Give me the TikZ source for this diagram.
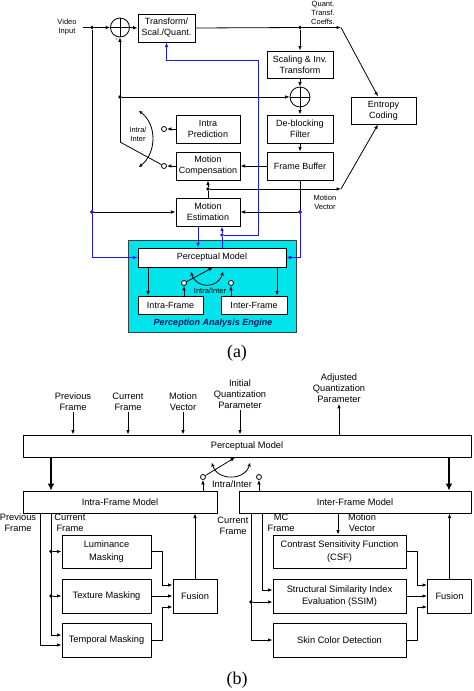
\documentclass[tikz,border=0pt]{standalone}
\usepackage{fontspec}
\setmainfont{Liberation Sans}
\newfontfamily\capfont{Liberation Serif}
\usetikzlibrary{arrows.meta}

\definecolor{engblue}{RGB}{25,25,235}
\definecolor{engcyan}{RGB}{0,228,236}
\definecolor{engnavy}{RGB}{15,15,95}

\newcommand{\fa}{\fontsize{9}{11}\selectfont}
\newcommand{\fb}{\fontsize{9.3}{11}\selectfont}
\newcommand{\fbb}{\fontsize{9.3}{12.5}\selectfont}
\newcommand{\fs}{\fontsize{7.5}{9}\selectfont}

\tikzset{every picture/.style={line width=0.8pt}}
\tikzset{
  blk/.style={draw, line width=1pt, fill=white, align=center, inner sep=1pt},
  sumc/.style={circle, draw, minimum size=19, inner sep=0pt,
    path picture={\draw (path picture bounding box.north) -- (path picture bounding box.south)
      (path picture bounding box.west) -- (path picture bounding box.east);}},
  jdot/.style={circle, fill, inner sep=0pt, minimum size=3.6},
  swc/.style={circle, draw, fill=white, inner sep=0pt, minimum size=5},
  lbl/.style={inner sep=1pt, align=center},
  arr/.style={-{Latex[length=4.5pt,width=3.6pt]}},
  barr/.style={line width=2.4pt, -{Latex[length=7pt,width=7pt]}},
  sarr/.style={{Stealth[length=4pt,width=3.5pt]}-{Stealth[length=4pt,width=3.5pt]}},
}

\begin{document}
\begin{tikzpicture}[x=1pt,y=1pt,yscale=-1,xscale=1]
\useasboundingbox (0,0) rectangle (474,691);

%%%%%%%%%% (a) encoder
\node[lbl, font=\fs] (vin) at (67,27.5) {Video\\Input};
\coordinate (vstart) at (83,27.5);
\node[jdot] (d1) at (92,27.5) {};
\node[sumc] (sum1) at (120,27.5) {};
\node[lbl, font=\fs] (minus) at (116.5,40) {-};
\node[blk, font=\fa, minimum width=57, minimum height=28] (tq) at (166.5,28) {Transform/\\Scal./Quant.};
\node[lbl, font=\fs] (qtc) at (323,13) {Quant.\\Transf.\\Coeffs.};
\node[jdot] (d2) at (300,27.5) {};
\coordinate (qc) at (341,27.5);

\node[blk, font=\fa, minimum width=66, minimum height=27] (sit) at (300,64.5) {Scaling \& Inv.\\Transform};
\node[sumc, minimum size=20] (sum2) at (300,97) {};
\node[jdot] (d3) at (120,97) {};
\node[blk, font=\fa, minimum width=66, minimum height=28] (dbf) at (300,129) {De-blocking\\Filter};
\node[blk, font=\fa, minimum width=66, minimum height=28] (fb) at (300,166) {Frame Buffer};
\node[blk, font=\fa, minimum width=65, minimum height=27] (ent) at (383.5,110.5) {Entropy\\Coding};

\node[blk, font=\fa, minimum width=64, minimum height=28] (ip) at (208,129) {Intra\\Prediction};
\node[blk, font=\fa, minimum width=64, minimum height=28] (mc) at (208,166) {Motion\\Compensation};
\node[blk, font=\fa, minimum width=64, minimum height=28] (me) at (208,212) {Motion\\Estimation};
\node[swc] (sw1) at (164,129) {};
\node[swc] (sw2) at (164,166) {};
\coordinate (pivot) at (120,142);
\coordinate (sa1) at (139,111);
\coordinate (sa2) at (139,167);
\node[lbl, font=\fs] (ii1) at (138,134) {Intra/\\Inter};

\node[jdot] (d5) at (208,189) {};
\coordinate (mvc) at (341,189);
\node[lbl, font=\fs] (mvl) at (325,202.5) {Motion\\Vector};
\node[jdot] (d4) at (300,212) {};
\node[jdot] (d6) at (92,212) {};

% main path
\draw (vstart) -- (d1);
\draw[arr] (d1) -- (sum1.west);
\draw[arr] (sum1.east) -- (tq.west);
\draw (tq.east) -- (d2);
\draw[arr] (d2) -- (qc);
\draw[arr] (qc) -- ([xshift=-5.5]ent.north);
\draw[arr] (d2) -- (sit.north);
\draw[arr] (sit.south) -- (sum2.north);
\draw[arr] (sum2.south) -- (dbf.north);
\draw[arr] (dbf.south) -- (fb.north);
\draw[arr] (fb.west) -- (mc.east);
\draw (fb.south) -- (d4);
\draw[arr] (d4) -- (me.east);
\draw (d1) -- (d6);
\draw[arr] (d6) -- (me.west);

% prediction loop
\draw[arr] (d3) -- (sum2.west);
\draw[arr] (pivot) -- (sum1.south);
\draw (pivot) -- (sw2);
\draw[arr] (ip.west) -- (sw1);
\draw[arr] (mc.west) -- (sw2);
\draw[sarr] (sa1) .. controls (157,124) and (157,153) .. (sa2);

% motion vectors
\draw (me.north) -- (d5);
\draw[arr] (d5) -- (mc.south);
\draw[arr] (d5) -- (mvc);
\draw[arr] (mvc) -- ([xshift=-5.5]ent.south);

% perception analysis engine
\node[draw=black!75, fill=engcyan, line width=1pt, minimum width=168, minimum height=92] (eng) at (212,286) {};
\node[blk, font=\fa, minimum width=148, minimum height=19] (pm) at (212,257.5) {Perceptual Model};
\node[blk, font=\fa, minimum width=65, minimum height=18] (intra) at (170.5,305) {Intra-Frame};
\node[blk, font=\fa, minimum width=66, minimum height=18] (inter) at (254,305) {Inter-Frame};
\node[swc] (s3) at (184,283) {};
\node[swc] (s4) at (231,283) {};
\node[lbl, font=\fs] (ii2) at (210,290.5) {Intra/Inter};
\node[lbl, font=\fontsize{9}{11}\selectfont\bfseries\itshape, text=engnavy] (engl) at (213,323) {Perception Analysis Engine};
\node[jdot, fill=engblue] (d7) at (222,235) {};
\node[jdot, fill=engblue] at (d4) {};
\node[jdot, fill=engblue] at (d6) {};

\draw[arr] (pm.south -| 148,0) -- (intra.north -| 148,0);
\draw[arr] (pm.south -| 277,0) -- (inter.north -| 277,0);
\draw[arr] (intra.north -| s3) -- (s3);
\draw[arr] (inter.north -| s4) -- (s4);
\draw[arr] (s3) -- (pm.south -| 213,0);
\draw[sarr] (191,272) .. controls (196,289) and (218,289) .. (223,272);

% blue links
\draw[arr, engblue] (d6) -- (d6 |- pm.west) -- (pm.west);
\draw[arr, engblue] (d4) -- (d4 |- pm.east) -- (pm.east);
\draw[arr, engblue] (me.south -| 198,0) -- (pm.north -| 198,0);
\draw[engblue] (pm.north -| d7) -- (d7);
\draw[arr, engblue] (d7) -- (me.south -| d7);
\draw[arr, engblue] (d7) -- (258,235) -- (258,60) -- (tq.south |- 0,60) -- (tq.south);

\node[lbl, font=\capfont\fontsize{18}{20}\selectfont] (capa) at (237,353) {(a)};

%%%%%%%%%% (b) perceptual model
\node[lbl, font=\fb] (pvf) at (73,401.5) {Previous\\Frame};
\node[lbl, font=\fb] (cuf) at (128,401.5) {Current\\Frame};
\node[lbl, font=\fb] (mvv) at (183,401.5) {Motion\\Vector};
\node[lbl, font=\fb] (iqp) at (240,394.5) {Initial\\Quantization\\Parameter};
\node[lbl, font=\fb] (aqp) at (339,388) {Adjusted\\Quantization\\Parameter};
\node[blk, font=\fb, minimum width=448, minimum height=22] (pm2) at (247,446) {Perceptual Model};

\draw[arr] (pvf.south) -- (pvf.south |- pm2.north);
\draw[arr] (cuf.south) -- (cuf.south |- pm2.north);
\draw[arr] (mvv.south) -- (mvv.south |- pm2.north);
\draw[arr] (iqp.south) -- (iqp.south |- pm2.north);
\draw[arr] (pm2.north -| aqp) -- (aqp.south);

\node[blk, font=\fb, minimum width=194, minimum height=22] (ifm) at (120,502) {Intra-Frame Model};
\node[blk, font=\fb, minimum width=232, minimum height=22] (efm) at (355,502) {Inter-Frame Model};
\draw[barr] (pm2.south -| 51,0) -- (ifm.north -| 51,0);
\draw[barr] (pm2.south -| 449,0) -- (efm.north -| 449,0);

% switch
\node[swc] (s5) at (203,477) {};
\node[swc] (s6) at (259,477) {};
\draw[arr] (ifm.north -| s5) -- (s5);
\draw[arr] (efm.north -| s6) -- (s6);
\draw[arr] (s5) -- (pm2.south -| 235,0);
\draw[sarr] (212,463) .. controls (217,481) and (245,481) .. (250,463);
\node[lbl, font=\fb] (ii3) at (232,484) {Intra/Inter};

% intra-frame model
\node[lbl, font=\fb] (pvf2) at (18,523) {Previous\\Frame};
\node[lbl, font=\fb] (cuf2) at (70,523) {Current\\Frame};
\node[blk, font=\fbb, minimum width=89, minimum height=33] (lm) at (106.5,551.5) {Luminance\\Masking};
\node[blk, font=\fbb, minimum width=89, minimum height=34] (txm) at (106.5,596) {Texture Masking};
\node[blk, font=\fbb, minimum width=89, minimum height=34] (tm) at (106.5,640) {Temporal Masking};
\node[blk, font=\fbb, minimum width=44, minimum height=34] (fu1) at (195,596) {Fusion};
\node[jdot] (j1) at (51,551.5) {};
\node[jdot] (j2) at (51,596) {};

\draw[arr] (ifm.south -| 40,0) |- ([yshift=5]tm.west);
\draw[arr] (ifm.south -| j1) |- ([yshift=-5]tm.west);
\draw[arr] (j1) -- (lm.west);
\draw[arr] (j2) -- (txm.west);
\draw[arr] (lm.east) -- ++(11,0) |- ([yshift=-11]fu1.west);
\draw[arr] (txm.east) -- (fu1.west);
\draw[arr] (tm.east) -- ++(11,0) |- ([yshift=11]fu1.west);
\draw[arr] (fu1.north) -- (fu1.north |- ifm.south);

% inter-frame model
\node[lbl, font=\fb] (cuf3) at (233,526) {Current\\Frame};
\node[lbl, font=\fb] (mcf) at (281,523) {MC\\Frame};
\node[lbl, font=\fb] (mvv2) at (362,523) {Motion\\Vector};
\node[blk, font=\fbb, minimum width=133, minimum height=33] (csf) at (339.5,551.5) {Contrast Sensitivity Function\\(CSF)};
\node[blk, font=\fbb, minimum width=133, minimum height=34] (ssim) at (339.5,596) {Structural Similarity Index\\Evaluation (SSIM)};
\node[blk, font=\fbb, minimum width=133, minimum height=34] (skin) at (339.5,640) {Skin Color Detection};
\node[blk, font=\fbb, minimum width=44, minimum height=34] (fu2) at (449.5,596) {Fusion};
\node[jdot] (j3) at (251,602) {};

\draw[arr] (efm.south -| j3) |- (skin.west);
\draw[arr] (j3) -- (j3 -| ssim.west);
\draw[arr] (efm.south -| 262,0) |- ([yshift=-6]ssim.west);
\draw[arr] (efm.south -| 338,0) -- (csf.north -| 338,0);
\draw[arr] (csf.east) -- ++(11,0) |- ([yshift=-11]fu2.west);
\draw[arr] (ssim.east) -- (fu2.west);
\draw[arr] (skin.east) -- ++(11,0) |- ([yshift=11]fu2.west);
\draw[arr] (fu2.north) -- (fu2.north |- efm.south);

\node[lbl, font=\capfont\fontsize{18}{20}\selectfont] (capb) at (237,680) {(b)};
\end{tikzpicture}
\end{document}
